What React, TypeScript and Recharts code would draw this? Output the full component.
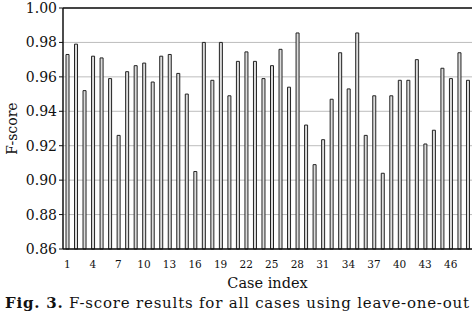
import React from "react";
import { BarChart, Bar, XAxis, YAxis, CartesianGrid, ReferenceLine } from "recharts";

const caseIndex = [
  1, 2, 3, 4, 5, 6, 7, 8, 9, 10, 11, 12, 13, 14, 15, 16,
  17, 18, 19, 20, 21, 22, 23, 24, 25, 26, 27, 28, 29, 30, 31, 32,
  33, 34, 35, 36, 37, 38, 39, 40, 41, 42, 43, 44, 45, 46, 47, 48,
];

const fScore = [
  0.973, 0.979, 0.952, 0.972, 0.971, 0.959, 0.926, 0.963, 0.9665, 0.968, 0.957, 0.972, 0.973, 0.962, 0.950, 0.905,
  0.980, 0.958, 0.980, 0.949, 0.969, 0.9745, 0.969, 0.959, 0.9665, 0.976, 0.954, 0.9855, 0.932, 0.909, 0.9235, 0.947,
  0.974, 0.953, 0.9855, 0.926, 0.949, 0.904, 0.949, 0.958, 0.958, 0.970, 0.921, 0.929, 0.965, 0.959, 0.974, 0.958,
];

const yTicks = [0.86, 0.88, 0.9, 0.92, 0.94, 0.96, 0.98, 1.0];

const data = caseIndex.map((c, i) => ({ c, v: fScore[i] }));

const FONT = "'DejaVu Serif', serif";

export default function App() {
  return (
    <div style={{ position: "absolute", left: 0, top: 0, width: 474, height: 312, background: "#fff" }}>
      <BarChart
        width={474}
        height={312}
        data={data}
        margin={{ top: 8, right: 2, bottom: 0, left: 0 }}
        barCategoryGap={0}
      >
        <CartesianGrid vertical={false} stroke="#bdbdbd" strokeWidth={1} />
        <XAxis
          dataKey="c"
          height={63}
          interval={2}
          tickLine={false}
          axisLine={{ stroke: "#111", strokeWidth: 1.5 }}
          tick={{ fill: "#111", fontSize: 10.5, fontFamily: FONT }}
          tickMargin={6}
          label={{ value: "Case index", position: "insideBottom", offset: 24, fill: "#111", fontSize: 14.5, fontFamily: FONT }}
        />
        <YAxis
          domain={[0.86, 1.0]}
          ticks={yTicks}
          width={63}
          interval={0}
          tickFormatter={(v: number) => v.toFixed(2)}
          axisLine={{ stroke: "#111", strokeWidth: 1.5 }}
          tickLine={{ stroke: "#111" }}
          tickSize={4}
          tick={{ fill: "#111", fontSize: 14, fontFamily: FONT }}
          label={{ value: "F-score", angle: -90, position: "insideLeft", offset: 12, fill: "#111", fontSize: 14, fontFamily: FONT, style: { textAnchor: "middle" } }}
        />
        <YAxis
          yAxisId="r"
          orientation="right"
          width={0}
          domain={[0.86, 1.0]}
          tick={false}
          tickLine={false}
          axisLine={{ stroke: "#222", strokeWidth: 2 }}
        />
        <ReferenceLine y={1.0} stroke="#111" strokeWidth={1.5} />
        <Bar dataKey="v" barSize={3} fill="#dcdcdc" stroke="#222" strokeWidth={1} isAnimationActive={false} />
      </BarChart>
      <svg width={474} height={312} style={{ position: "absolute", left: 0, top: 0, pointerEvents: "none" }}>
        <text x={5} y={308} textLength={464} lengthAdjust="spacing" fontFamily={FONT} fontSize={15} fill="#111">
          <tspan fontWeight="bold">Fig. 3.</tspan>
          <tspan> F-score results for all cases using leave-one-out</tspan>
        </text>
      </svg>
    </div>
  );
}
